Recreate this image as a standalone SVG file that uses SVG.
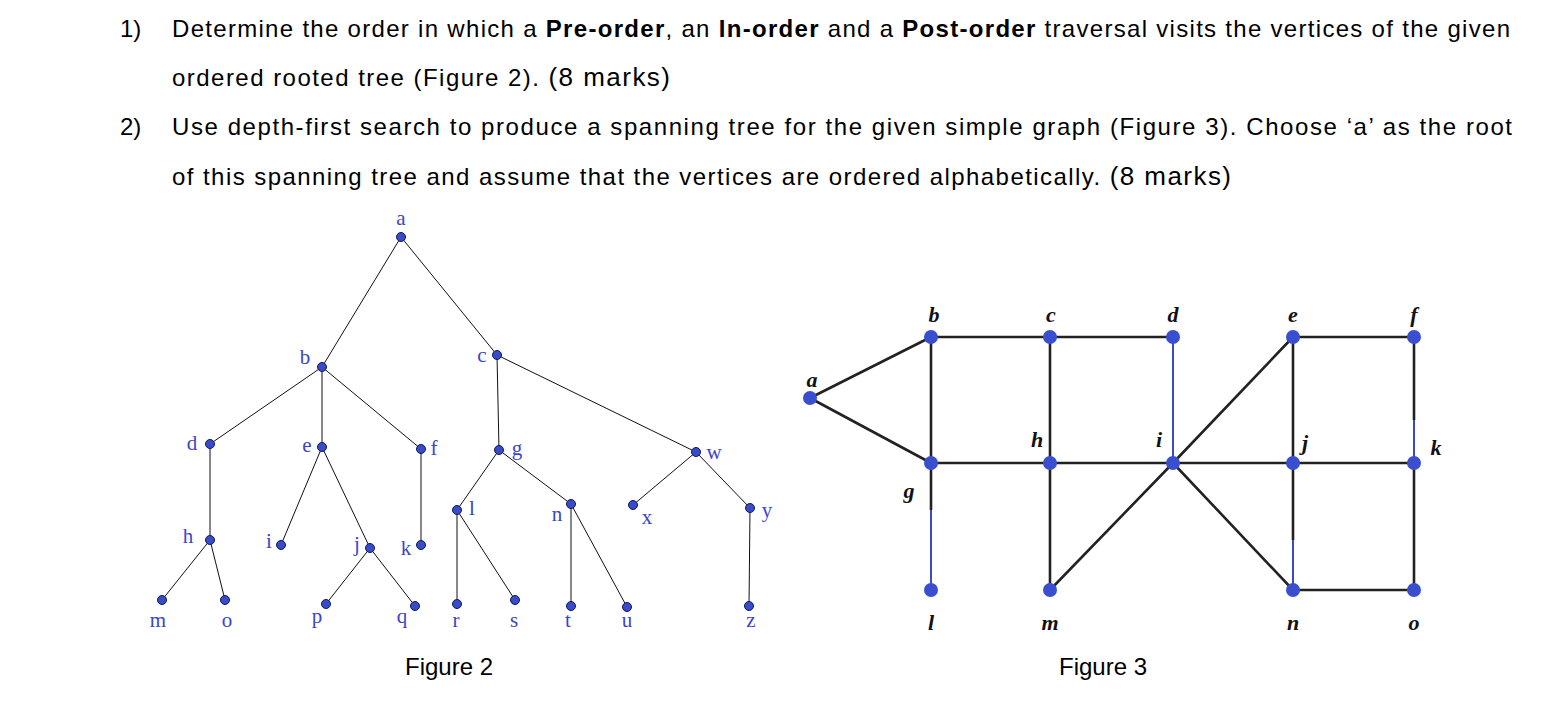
<svg xmlns="http://www.w3.org/2000/svg" width="1554" height="720" viewBox="0 0 1554 720">
<style>
.t{font-family:"Liberation Sans",Arial,sans-serif;font-size:24px;fill:#000}
.b{font-weight:bold}
.l2{font-family:"Liberation Serif","Times New Roman",serif;font-size:21px;fill:#3b45c8;text-anchor:middle}
.l3{font-family:"Liberation Serif","Times New Roman",serif;font-size:22px;font-weight:bold;font-style:italic;fill:#111;text-anchor:middle}
.e2{stroke:#111;stroke-width:1;fill:none}
.e3{stroke:#222;stroke-width:2.6;fill:none}
.bl{stroke:#3a49d0;stroke-width:2}
.n2{fill:#3a4bc8;stroke:#0c1a5a;stroke-width:1}
.n3{fill:#3a4fd0}
</style>
<rect width="1554" height="720" fill="#fff"/>
<g id="question">
<text class="t" x="120" y="37">1)</text>
<text class="t" x="172" y="37" textLength="1338" lengthAdjust="spacing">Determine the order in which a <tspan class="b">Pre-order</tspan>, an <tspan class="b">In-order</tspan> and a <tspan class="b">Post-order</tspan> traversal visits the vertices of the given</text>
<text class="t" x="172" y="86" textLength="498" lengthAdjust="spacing">ordered rooted tree (Figure 2). <tspan font-size="26">(8 marks)</tspan></text>
<text class="t" x="120" y="135">2)</text>
<text class="t" x="172" y="135" textLength="1340" lengthAdjust="spacing">Use depth-first search to produce a spanning tree for the given simple graph (Figure 3). Choose ‘a’ as the root</text>
<text class="t" x="172" y="185" textLength="1059" lengthAdjust="spacing">of this spanning tree and assume that the vertices are ordered alphabetically. <tspan font-size="26">(8 marks)</tspan></text>
<text class="t" x="449" y="675" text-anchor="middle" font-size="26">Figure 2</text>
<text class="t" x="1103" y="675" text-anchor="middle" font-size="26">Figure 3</text>
</g>
<g id="connectors">
<path class="e2" d="M401,237L322,367M401,237L497,355M322,367L210,444M322,367L322,447M322,367L421,449M497,355L499,450M497,355L696,452M210,444L210,540M210,540L162,600M210,540L225,600M322,447L281,545M322,447L370,548M370,548L326,604M370,548L415,606M421,449L421,545M499,450L457,510M499,450L571,504M457,510L457,604M457,510L515,600M571,504L571,606M571,504L627,607M696,452L633,505M696,452L750,508M750,508L749,606"/>
<path class="e3" d="M810,398L931,337M810,398L931,463M931,337L1173,337M931,337L931,463M1050,337L1050,463M1293,337L1414,337M1293,337L1293,463M1293,337L1173,463M1414,337L1414,420M931,463L1414,463M1050,463L1050,590M1050,590L1173,463M1173,463L1293,590M1293,463L1293,540M1293,590L1414,590M1414,463L1414,590M931,463L931,510"/>
<path class="e3 bl" d="M1173,337L1173,463M931,510L931,590M1414,420L1414,463M1293,540L1293,590" stroke-width="2"/>
</g>
<g id="fig2">
<g id="n2a"><circle class="n2" cx="401" cy="237" r="4.5"/><text class="l2" x="401" y="225">a</text></g>
<g id="n2b"><circle class="n2" cx="322" cy="367" r="4.5"/><text class="l2" x="305" y="364">b</text></g>
<g id="n2c"><circle class="n2" cx="497" cy="355" r="4.5"/><text class="l2" x="482" y="362">c</text></g>
<g id="n2d"><circle class="n2" cx="210" cy="444" r="4.5"/><text class="l2" x="192" y="450">d</text></g>
<g id="n2e"><circle class="n2" cx="322" cy="447" r="4.5"/><text class="l2" x="307" y="452">e</text></g>
<g id="n2f"><circle class="n2" cx="421" cy="449" r="4.5"/><text class="l2" x="434" y="455">f</text></g>
<g id="n2g"><circle class="n2" cx="499" cy="450" r="4.5"/><text class="l2" x="517" y="455">g</text></g>
<g id="n2w"><circle class="n2" cx="696" cy="452" r="4.5"/><text class="l2" x="714" y="459">w</text></g>
<g id="n2h"><circle class="n2" cx="210" cy="540" r="4.5"/><text class="l2" x="188" y="543">h</text></g>
<g id="n2i"><circle class="n2" cx="281" cy="545" r="4.5"/><text class="l2" x="269" y="548">i</text></g>
<g id="n2j"><circle class="n2" cx="370" cy="548" r="4.5"/><text class="l2" x="357" y="551">j</text></g>
<g id="n2k"><circle class="n2" cx="421" cy="545" r="4.5"/><text class="l2" x="406" y="555">k</text></g>
<g id="n2l"><circle class="n2" cx="457" cy="510" r="4.5"/><text class="l2" x="472" y="515">l</text></g>
<g id="n2n"><circle class="n2" cx="571" cy="504" r="4.5"/><text class="l2" x="557" y="521">n</text></g>
<g id="n2x"><circle class="n2" cx="633" cy="505" r="4.5"/><text class="l2" x="647" y="524">x</text></g>
<g id="n2y"><circle class="n2" cx="750" cy="508" r="4.5"/><text class="l2" x="767" y="517">y</text></g>
<g id="n2m"><circle class="n2" cx="162" cy="600" r="4.5"/><text class="l2" x="158" y="627">m</text></g>
<g id="n2o"><circle class="n2" cx="225" cy="600" r="4.5"/><text class="l2" x="227" y="627">o</text></g>
<g id="n2p"><circle class="n2" cx="326" cy="604" r="4.5"/><text class="l2" x="317" y="623">p</text></g>
<g id="n2q"><circle class="n2" cx="415" cy="606" r="4.5"/><text class="l2" x="402" y="623">q</text></g>
<g id="n2r"><circle class="n2" cx="457" cy="604" r="4.5"/><text class="l2" x="456" y="627">r</text></g>
<g id="n2s"><circle class="n2" cx="515" cy="600" r="4.5"/><text class="l2" x="514" y="627">s</text></g>
<g id="n2t"><circle class="n2" cx="571" cy="606" r="4.5"/><text class="l2" x="568" y="627">t</text></g>
<g id="n2u"><circle class="n2" cx="627" cy="607" r="4.5"/><text class="l2" x="627" y="627">u</text></g>
<g id="n2z"><circle class="n2" cx="749" cy="606" r="4.5"/><text class="l2" x="751" y="627">z</text></g>
</g>
<g id="fig3">
<g id="n3a"><circle class="n3" cx="810" cy="398" r="7"/><text class="l3" x="812" y="387">a</text></g>
<g id="n3b"><circle class="n3" cx="931" cy="337" r="7"/><text class="l3" x="934" y="322">b</text></g>
<g id="n3c"><circle class="n3" cx="1050" cy="337" r="7"/><text class="l3" x="1051" y="322">c</text></g>
<g id="n3d"><circle class="n3" cx="1173" cy="337" r="7"/><text class="l3" x="1173" y="322">d</text></g>
<g id="n3e"><circle class="n3" cx="1293" cy="337" r="7"/><text class="l3" x="1293" y="322">e</text></g>
<g id="n3f"><circle class="n3" cx="1414" cy="337" r="7"/><text class="l3" x="1414" y="322">f</text></g>
<g id="n3g"><circle class="n3" cx="931" cy="463" r="7"/><text class="l3" x="909" y="498">g</text></g>
<g id="n3h"><circle class="n3" cx="1050" cy="463" r="7"/><text class="l3" x="1037" y="447">h</text></g>
<g id="n3i"><circle class="n3" cx="1173" cy="463" r="7"/><text class="l3" x="1159" y="447">i</text></g>
<g id="n3j"><circle class="n3" cx="1293" cy="463" r="7"/><text class="l3" x="1305" y="450">j</text></g>
<g id="n3k"><circle class="n3" cx="1414" cy="463" r="7"/><text class="l3" x="1436" y="455">k</text></g>
<g id="n3l"><circle class="n3" cx="931" cy="590" r="7"/><text class="l3" x="931" y="630">l</text></g>
<g id="n3m"><circle class="n3" cx="1050" cy="590" r="7"/><text class="l3" x="1050" y="630">m</text></g>
<g id="n3n"><circle class="n3" cx="1293" cy="590" r="7"/><text class="l3" x="1293" y="630">n</text></g>
<g id="n3o"><circle class="n3" cx="1414" cy="590" r="7"/><text class="l3" x="1414" y="630">o</text></g>
</g>
</svg>
